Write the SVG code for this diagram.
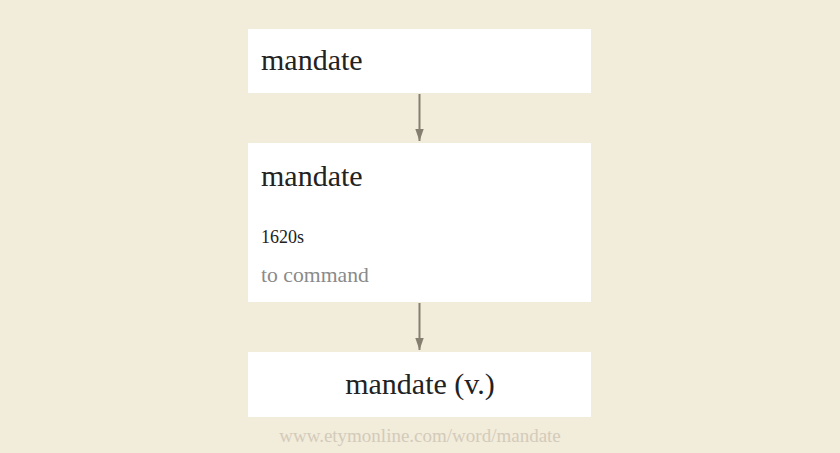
<svg xmlns="http://www.w3.org/2000/svg" width="840" height="453" viewBox="0 0 840 453">
<style>
.box{fill:#ffffff}
.t{font-family:"Liberation Serif","Times New Roman",serif;fill:#222222}
.w{font-size:30px}
.d{font-size:18px}
.g{font-size:21.7px;fill:#8a8a8a}
.f{font-size:19px;fill:#d2cbba}
.c{stroke:#857f6f;stroke-width:2;fill:none}
</style>
<defs>
<marker id="ah" viewBox="0 0 10 10" refX="10" refY="5" markerWidth="6" markerHeight="4.2" markerUnits="strokeWidth" orient="auto" preserveAspectRatio="none">
<path d="M0,0 L10,5 L0,10 Z" fill="#857f6f"/>
</marker>
</defs>
<rect width="840" height="453" fill="#f2ecdb"/>
<g id="connectors">
<line class="c" x1="419.5" y1="94" x2="419.5" y2="141" marker-end="url(#ah)"/>
<line class="c" x1="419.5" y1="303" x2="419.5" y2="350" marker-end="url(#ah)"/>
</g>
<g id="node1">
<rect class="box" x="248" y="29" width="343" height="64"/>
<text class="t w" x="261" y="70">mandate</text>
</g>
<g id="node2">
<rect class="box" x="248" y="143" width="343" height="159"/>
<text class="t w" x="261" y="186">mandate</text>
<text class="t d" x="261" y="243">1620s</text>
<text class="t g" x="261" y="282">to command</text>
</g>
<g id="node3">
<rect class="box" x="248" y="352" width="343" height="65"/>
<text class="t w" x="420" y="394" text-anchor="middle">mandate (v.)</text>
</g>
<text class="t f" x="420" y="442" text-anchor="middle">www.etymonline.com/word/mandate</text>
</svg>
